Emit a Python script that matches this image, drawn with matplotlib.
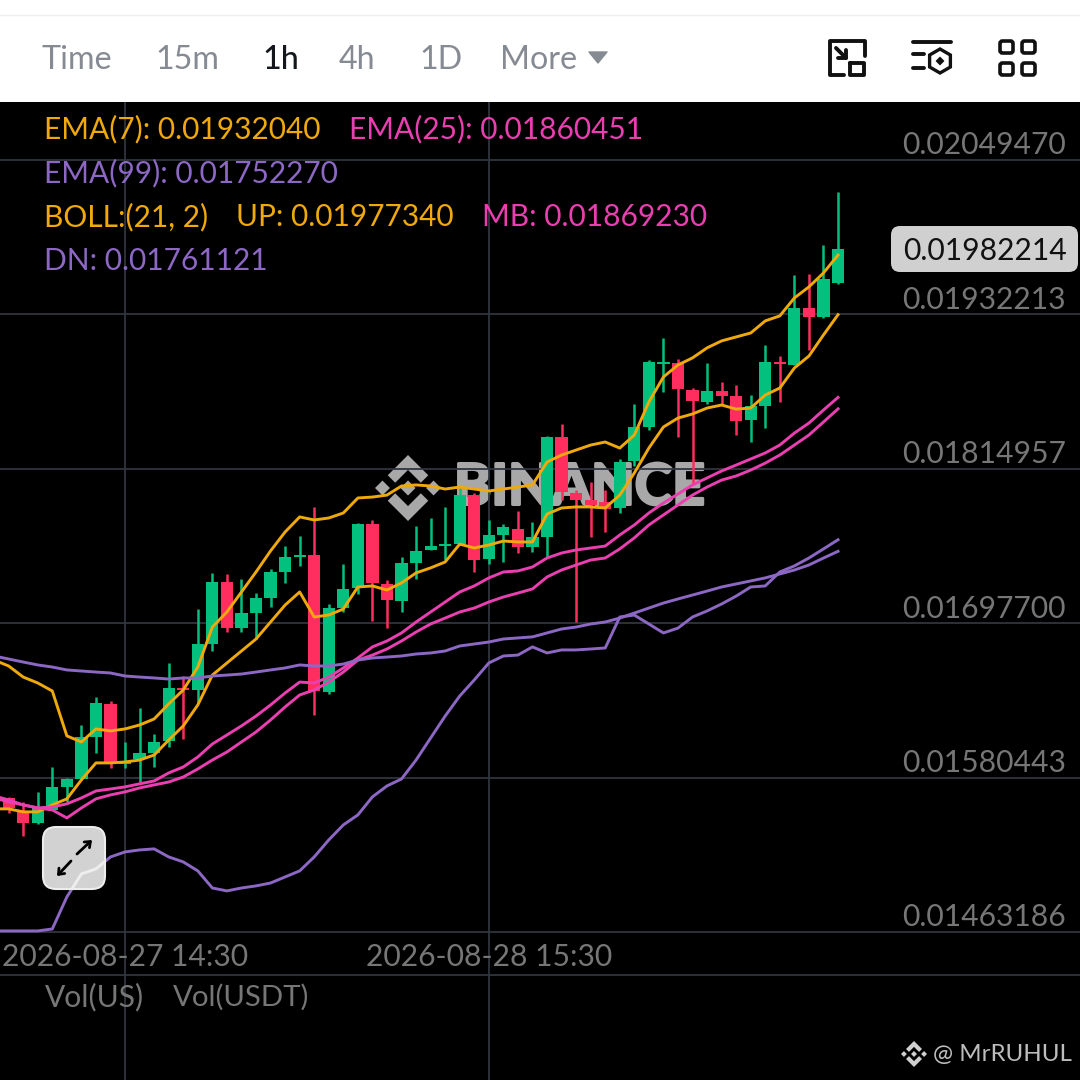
# recreate the BINANCE 1h candlestick screenshot
import numpy as np
import matplotlib
matplotlib.use("Agg")
import matplotlib.pyplot as plt
import matplotlib.patheffects as pe
from matplotlib.patches import FancyBboxPatch, Polygon, RegularPolygon

opens = [0.015536, 0.015650, 0.015544, 0.015460, 0.015559, 0.015734, 0.015794, 0.016113, 0.016364, 0.015908,
         0.015946, 0.015992, 0.016083, 0.016485, 0.016470, 0.016819, 0.017290, 0.016940, 0.017054, 0.017168,
         0.017366, 0.017480, 0.017495, 0.016455, 0.017092, 0.017244, 0.017731, 0.017275, 0.017145, 0.017435,
         0.017533, 0.017563, 0.017578, 0.017950, 0.017465, 0.017647, 0.017693, 0.017556, 0.017632, 0.018391,
         0.017966, 0.017913, 0.017898, 0.017852, 0.018209, 0.018467, 0.018946, 0.018953, 0.018748, 0.018657,
         0.018741, 0.018703, 0.018520, 0.018626, 0.018961, 0.018938, 0.019371, 0.019303, 0.019560]
highs = [0.015635, 0.015658, 0.015620, 0.015696, 0.015885, 0.015802, 0.016204, 0.016416, 0.016386, 0.016075,
         0.016333, 0.016136, 0.016675, 0.016576, 0.017085, 0.017359, 0.017351, 0.017313, 0.017206, 0.017389,
         0.017563, 0.017640, 0.017860, 0.017123, 0.017427, 0.017738, 0.017761, 0.017305, 0.017480, 0.017716,
         0.017776, 0.017860, 0.018003, 0.017965, 0.017761, 0.017731, 0.017829, 0.017746, 0.018398, 0.018490,
         0.017988, 0.018049, 0.017988, 0.018224, 0.018642, 0.018976, 0.019143, 0.018984, 0.018763, 0.018953,
         0.018809, 0.018786, 0.018710, 0.019090, 0.019007, 0.019622, 0.019629, 0.019849, 0.020251]
lows = [0.015445, 0.015536, 0.015362, 0.015453, 0.015559, 0.015620, 0.015794, 0.015992, 0.015878, 0.015878,
        0.015771, 0.015885, 0.016037, 0.016098, 0.016371, 0.016766, 0.016910, 0.016910, 0.016857, 0.017100,
        0.017282, 0.017412, 0.016280, 0.016440, 0.017062, 0.017198, 0.016994, 0.016940, 0.017062, 0.017313,
        0.017533, 0.017457, 0.017571, 0.017366, 0.017427, 0.017442, 0.017510, 0.017518, 0.017480, 0.017913,
        0.016986, 0.017632, 0.017670, 0.017814, 0.018171, 0.018444, 0.018734, 0.018391, 0.018027, 0.018642,
        0.018642, 0.018406, 0.018353, 0.018459, 0.018657, 0.018938, 0.019052, 0.019295, 0.019553]
closes = [0.015589, 0.015574, 0.015460, 0.015574, 0.015734, 0.015794, 0.016113, 0.016371, 0.015916, 0.015923,
          0.015992, 0.016075, 0.016485, 0.016470, 0.016819, 0.017290, 0.016940, 0.017054, 0.017168, 0.017366,
          0.017480, 0.017495, 0.016462, 0.017092, 0.017237, 0.017731, 0.017283, 0.017153, 0.017435, 0.017526,
          0.017563, 0.017578, 0.017950, 0.017457, 0.017647, 0.017708, 0.017556, 0.017632, 0.018391, 0.017973,
          0.017913, 0.017875, 0.017845, 0.018201, 0.018467, 0.018961, 0.018961, 0.018755, 0.018664, 0.018741,
          0.018703, 0.018513, 0.018626, 0.018961, 0.018946, 0.019371, 0.019303, 0.019591, 0.019822]

boll_up = [0.016697, 0.016652, 0.016568, 0.016523, 0.016462, 0.016121, 0.016075, 0.016174, 0.016159, 0.016174,
           0.016204, 0.016250, 0.016364, 0.016470, 0.016644, 0.016948, 0.017062, 0.017214, 0.017366, 0.017526,
           0.017670, 0.017784, 0.017761, 0.017776, 0.017814, 0.017928, 0.017935, 0.017950, 0.018019, 0.018027,
           0.018019, 0.017996, 0.018011, 0.017996, 0.017981, 0.017996, 0.018011, 0.018027, 0.018201, 0.018254,
           0.018292, 0.018330, 0.018353, 0.018307, 0.018406, 0.018657, 0.018847, 0.018938, 0.018992, 0.019068,
           0.019121, 0.019151, 0.019181, 0.019273, 0.019311, 0.019447, 0.019531, 0.019637, 0.019773]
ema7 = [0.015567, 0.015567, 0.015544, 0.015544, 0.015597, 0.015643, 0.015787, 0.015916, 0.015916, 0.015923,
        0.015938, 0.015976, 0.016090, 0.016197, 0.016356, 0.016583, 0.016675, 0.016766, 0.016857, 0.016986,
        0.017115, 0.017214, 0.017024, 0.017039, 0.017085, 0.017252, 0.017260, 0.017229, 0.017283, 0.017359,
        0.017397, 0.017442, 0.017578, 0.017548, 0.017571, 0.017601, 0.017594, 0.017594, 0.017806, 0.017852,
        0.017860, 0.017860, 0.017852, 0.017950, 0.018118, 0.018307, 0.018467, 0.018535, 0.018566, 0.018611,
        0.018634, 0.018603, 0.018611, 0.018710, 0.018763, 0.018915, 0.019006, 0.019166, 0.019320]
boll_mb = [0.015650, 0.015620, 0.015597, 0.015574, 0.015582, 0.015605, 0.015650, 0.015703, 0.015718, 0.015734,
           0.015757, 0.015779, 0.015840, 0.015885, 0.015961, 0.016060, 0.016128, 0.016197, 0.016272, 0.016356,
           0.016447, 0.016530, 0.016523, 0.016568, 0.016637, 0.016713, 0.016797, 0.016842, 0.016903, 0.016986,
           0.017062, 0.017138, 0.017214, 0.017260, 0.017321, 0.017366, 0.017374, 0.017404, 0.017472, 0.017510,
           0.017533, 0.017548, 0.017563, 0.017647, 0.017723, 0.017814, 0.017890, 0.017958, 0.018027, 0.018080,
           0.018133, 0.018178, 0.018224, 0.018270, 0.018330, 0.018421, 0.018497, 0.018596, 0.018692]
ema25 = [0.015665, 0.015635, 0.015597, 0.015574, 0.015559, 0.015498, 0.015574, 0.015643, 0.015673, 0.015696,
         0.015726, 0.015749, 0.015771, 0.015809, 0.015870, 0.015938, 0.015999, 0.016075, 0.016151, 0.016242,
         0.016341, 0.016432, 0.016470, 0.016530, 0.016606, 0.016697, 0.016735, 0.016781, 0.016842, 0.016910,
         0.016971, 0.017016, 0.017062, 0.017092, 0.017138, 0.017176, 0.017206, 0.017237, 0.017328, 0.017381,
         0.017419, 0.017457, 0.017472, 0.017541, 0.017625, 0.017723, 0.017799, 0.017875, 0.017950, 0.018011,
         0.018064, 0.018095, 0.018140, 0.018193, 0.018254, 0.018330, 0.018406, 0.018505, 0.018605]
ema99 = [0.016728, 0.016705, 0.016682, 0.016660, 0.016644, 0.016622, 0.016614, 0.016606, 0.016599, 0.016576,
         0.016568, 0.016561, 0.016553, 0.016561, 0.016561, 0.016576, 0.016583, 0.016591, 0.016606, 0.016622,
         0.016637, 0.016660, 0.016652, 0.016652, 0.016667, 0.016697, 0.016713, 0.016720, 0.016728, 0.016743,
         0.016751, 0.016766, 0.016804, 0.016819, 0.016834, 0.016857, 0.016865, 0.016873, 0.016903, 0.016933,
         0.016948, 0.016971, 0.016986, 0.017016, 0.017054, 0.017092, 0.017130, 0.017161, 0.017191, 0.017221,
         0.017252, 0.017275, 0.017298, 0.017321, 0.017351, 0.017381, 0.017419, 0.017472, 0.017523]
boll_dn = [0.014640, 0.014640, 0.014640, 0.014640, 0.014655, 0.014898, 0.015073, 0.015111, 0.015202, 0.015240,
           0.015255, 0.015263, 0.015202, 0.015164, 0.015096, 0.014966, 0.014944, 0.014966, 0.014982, 0.015004,
           0.015050, 0.015096, 0.015202, 0.015331, 0.015445, 0.015521, 0.015658, 0.015741, 0.015794, 0.015938,
           0.016105, 0.016272, 0.016424, 0.016546, 0.016675, 0.016728, 0.016735, 0.016797, 0.016751, 0.016774,
           0.016774, 0.016781, 0.016789, 0.017024, 0.017039, 0.016971, 0.016903, 0.016940, 0.017024, 0.017070,
           0.017123, 0.017183, 0.017252, 0.017260, 0.017366, 0.017412, 0.017472, 0.017541, 0.017611]

y_ticks = [0.02049470, 0.01932213, 0.01814957, 0.01697700, 0.01580443, 0.01463186]
y_labels = ["0.02049470", "0.01932213", "0.01814957", "0.01697700", "0.01580443", "0.01463186"]
x_ticks = [9, 34]
x_labels = ["2026-08-27 14:30", "2026-08-28 15:30"]
last_price = 0.01982214

ORANGE = "#f0a90a"
PINK = "#ea3fb0"
PURPLE = "#8c68c4"
GREEN = "#03c07e"
RED = "#ff2e5f"
GRID = "#30363f"
GREY = "#767676"
FONT = "Lato"
LABEL_SIZE = 21.6
LEGEND_SIZE = 21.5

plt.rcParams["font.family"] = FONT

fig = plt.figure(figsize=(10.8, 10.8), dpi=100, facecolor="black")

# background layer, coordinates are screen pixels
bg = fig.add_axes([0, 0, 1, 1], zorder=0)
bg.set_xlim(0, 1080)
bg.set_ylim(1080, 0)
bg.axis("off")
bg.fill_between([0, 1080], 0, 102, color="white", lw=0)
bg.plot([0, 1080], [15, 15], color="#efefef", lw=1)

for label, lx, col in [("Time", 42, "#868b93"), ("15m", 155, "#868b93"), ("1h", 262, "#14171c"),
                       ("4h", 339, "#868b93"), ("1D", 419, "#868b93"), ("More", 500, "#868b93")]:
    bg.text(lx, 60, label, color=col, fontsize=23.2, va="center", ha="left",
            fontweight="medium" if label == "1h" else "normal")
bg.add_patch(Polygon([(589, 52), (607, 52), (598, 63)], closed=True, fc="#868b93", ec="#868b93", lw=1, joinstyle="round"))

# toolbar icons
INK = "#111111"
def stroke(xs, ys, lw=2.8):
    bg.plot(xs, ys, color=INK, lw=lw, solid_capstyle="round", solid_joinstyle="round")

stroke([844, 830, 830, 865, 865], [75, 75, 41, 41, 56])
stroke([850, 864, 864, 850, 850], [63, 63, 75, 75, 63])
stroke([836, 846], [48, 58])
stroke([846, 846, 838], [50, 58, 58])
stroke([913, 951], [42, 42])
stroke([913, 924], [54, 54])
stroke([913, 924], [68, 68])
bg.add_patch(RegularPolygon((940, 61), 6, radius=12, fc="none", ec=INK, lw=2.4))
bg.add_patch(RegularPolygon((940, 61), 4, radius=4, fc=INK, ec=INK, lw=0.5))
for sx in (1000, 1022):
    for sy in (41, 63):
        bg.add_patch(FancyBboxPatch((sx, sy), 13, 12, boxstyle="round,pad=0,rounding_size=2.5", fc="none", ec=INK, lw=2.6))

# big logo watermark sits under the candles
LOGO = [[(38.73, 53.2), (63.32, 28.62), (87.92, 53.22), (102.22, 38.91), (63.32, 0), (24.42, 38.9)],
        [(0, 63.31), (14.3, 49), (28.61, 63.31), (14.3, 77.61)],
        [(38.73, 73.41), (63.32, 98), (87.92, 73.4), (102.23, 87.69), (63.33, 126.6), (24.42, 87.72)],
        [(98, 63.31), (112.3, 49), (126.61, 63.3), (112.3, 77.62)],
        [(77.83, 63.3), (63.32, 48.78), (48.81, 63.28), (63.32, 77.78)]]

def logo(target, cx, cy, size, col):
    k = size / 126.61
    for pts in LOGO:
        target.add_patch(Polygon([(cx + (px - 63.3) * k, cy + (py - 63.3) * k) for px, py in pts],
                                 closed=True, fc=col, ec="none"))

logo(bg, 408, 488, 66, "#a8a8a8")
wm = bg.text(454, 488, "BINANCE", color="#a8a8a8", fontsize=40.8, fontweight="bold", va="center", ha="left")
wm.set_path_effects([pe.withStroke(linewidth=2.2, foreground="#a8a8a8")])

# price panel
bottom_px, top_px = 975, 102
per_px = (y_ticks[0] - y_ticks[-1]) / (932 - 160)
ax = fig.add_axes([0, (1080 - bottom_px) / 1080, 1, (bottom_px - top_px) / 1080], zorder=1)
ax.patch.set_alpha(0)
ax.set_xlim(0.405, 74.63)
ax.set_ylim(y_ticks[-1] - (bottom_px - 932) * per_px, y_ticks[-1] + (932 - top_px) * per_px)
ax.set_xticks(x_ticks)
ax.set_yticks(y_ticks)
ax.tick_params(length=0, labelbottom=False, labelleft=False)
ax.grid(True, color=GRID, lw=1.3)
ax.set_axisbelow(True)
for name, spine in ax.spines.items():
    spine.set_visible(name == "bottom")
    spine.set_color(GRID)
    spine.set_linewidth(1.3)

idx = np.arange(len(closes))
o, h, l, c = map(np.array, (opens, highs, lows, closes))
cols = [GREEN if c[i] >= o[i] else RED for i in idx]
ax.vlines(idx, l, h, colors=cols, lw=1.8, zorder=3)
ax.bar(idx, np.maximum(np.abs(c - o), 2e-6), bottom=np.minimum(o, c), width=0.84, color=cols, zorder=3)

ax.plot(idx, boll_up, color=ORANGE, lw=2.1, zorder=4)
ax.plot(idx, ema7, color=ORANGE, lw=2.1, zorder=4)
ax.plot(idx, boll_mb, color=PINK, lw=2.1, zorder=4)
ax.plot(idx, ema25, color=PINK, lw=2.1, zorder=4)
ax.plot(idx, ema99, color=PURPLE, lw=2.1, zorder=4)
ax.plot(idx, boll_dn, color=PURPLE, lw=2.1, zorder=4)

for v, lab in zip(y_ticks, y_labels):
    ax.annotate(lab, (1, v), xycoords=("axes fraction", "data"), xytext=(-14, 14.5), textcoords="offset pixels",
                color=GREY, fontsize=LABEL_SIZE, ha="right", va="center")
for v, lab in zip(x_ticks, x_labels):
    ax.annotate(lab, (v, 0), xycoords=("data", "axes fraction"), xytext=(0, 18.5), textcoords="offset pixels",
                color=GREY, fontsize=LABEL_SIZE, ha="center", va="center")

# volume panel is empty, only the grid and its two titles
vol = fig.add_axes([0, 0, 1, (1080 - bottom_px) / 1080], zorder=1, sharex=ax)
vol.patch.set_alpha(0)
vol.set_yticks([])
vol.tick_params(length=0, labelbottom=False)
vol.grid(True, axis="x", color=GRID, lw=1.3)
for spine in vol.spines.values():
    spine.set_visible(False)

# top layer, screen pixels again
top = fig.add_axes([0, 0, 1, 1], zorder=2)
top.patch.set_alpha(0)
top.set_xlim(0, 1080)
top.set_ylim(1080, 0)
top.axis("off")

LEGEND = [("EMA(7): 0.01932040", 44, 129.5, ORANGE), ("EMA(25): 0.01860451", 349, 129.5, PINK),
          ("EMA(99): 0.01752270", 44, 173.5, PURPLE),
          ("BOLL:(21, 2)", 44, 217.5, ORANGE), ("UP: 0.01977340", 236, 217.5, ORANGE), ("MB: 0.01869230", 482, 217.5, PINK),
          ("DN: 0.01761121", 44, 261.5, PURPLE)]
for txt, lx, ly, col in LEGEND:
    top.text(lx, ly, txt, color=col, fontsize=LEGEND_SIZE, ha="left", va="center")

top.text(45, 997, "Vol(US)", color=GREY, fontsize=LABEL_SIZE, ha="left", va="center")
top.text(173, 997, "Vol(USDT)", color=GREY, fontsize=21.2, ha="left", va="center")

# current price pill
top.add_patch(FancyBboxPatch((891, 226), 187, 46, boxstyle="round,pad=0,rounding_size=9", fc="#d0d0d0", ec="none"))
top.text(984.5, 250.5, "%.8f" % last_price, color="#111111", fontsize=LABEL_SIZE, ha="center", va="center")

# expand button, the DN line shows through it faintly
button = FancyBboxPatch((43, 827), 62, 62, boxstyle="round,pad=0,rounding_size=13", fc="#d2d2d2", ec="#ededed", lw=1.5)
top.add_patch(button)
ghost, = top.plot(idx, boll_dn, color="#eeeeee", lw=2.1, transform=ax.transData)
ghost.set_clip_path(button)
for tail, tip in [((77, 854), (92, 840)), ((71, 861), (57, 876))]:
    top.annotate("", xy=tip, xytext=tail, arrowprops=dict(arrowstyle="->,head_length=0.35,head_width=0.28", color="black", lw=2, shrinkA=0, shrinkB=0))

# small author tag
logo(top, 914, 1054, 26, "#d0d0d0")
top.text(933, 1054, "@ MrRUHUL", color="#bdbdbd", fontsize=17.3, ha="left", va="center")

fig.savefig("out.png", dpi=100, facecolor="black")
